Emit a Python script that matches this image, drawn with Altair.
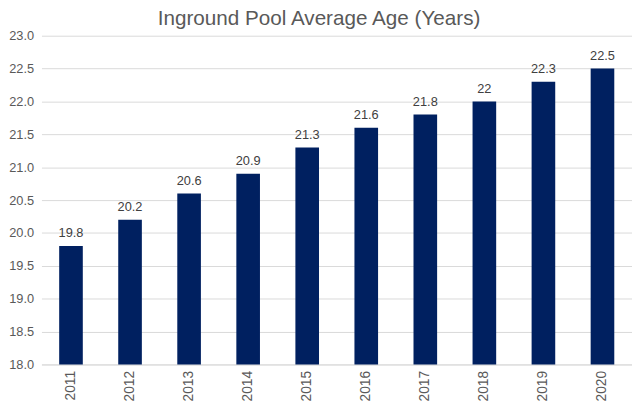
import altair as alt
import pandas as pd

years = ["2011", "2012", "2013", "2014", "2015", "2016", "2017", "2018", "2019", "2020"]
ages = [19.8, 20.2, 20.6, 20.9, 21.3, 21.6, 21.8, 22.0, 22.3, 22.5]
labels = ["19.8", "20.2", "20.6", "20.9", "21.3", "21.6", "21.8", "22", "22.3", "22.5"]
y_ticks = [18.0, 18.5, 19.0, 19.5, 20.0, 20.5, 21.0, 21.5, 22.0, 22.5, 23.0]

df = pd.DataFrame({"year": years, "age": ages, "label": labels})

FONT = "Liberation Sans"
GRAY = "#595959"

x = alt.X("year:N", sort=years, title=None,
          scale=alt.Scale(paddingInner=0.6, paddingOuter=0.3),
          axis=alt.Axis(labelAngle=270, labelFont=FONT, labelFontSize=14, labelColor=GRAY,
                        labelPadding=6, ticks=False, domainColor="#d9d9d9", labelAlign="right",
                        labelBaseline="middle"))
y = alt.Y("age:Q", title=None,
          scale=alt.Scale(domain=[18, 23], zero=False, nice=False),
          axis=alt.Axis(values=y_ticks, format=".1f", labelFont=FONT, labelFontSize=13,
                        labelColor=GRAY, ticks=False, domain=False, gridColor="#d9d9d9",
                        labelPadding=8))

base = alt.Chart(df)
bars = base.mark_bar(color="#002060").encode(x=x, y=y, y2=alt.datum(18))
text = base.mark_text(font=FONT, fontSize=13, color="#404040", baseline="alphabetic", dy=-9).encode(
    x=x, y=y, text="label:N")

chart = (bars + text).properties(
    width=600, height=334,
    padding={"left": 34, "top": 25, "right": 0, "bottom": 36},
    autosize=alt.AutoSizeParams(type="none"),
    title=alt.TitleParams("Inground Pool Average Age (Years)", font=FONT, fontSize=21,
                          fontWeight="normal", color=GRAY, anchor="middle", dx=-18,
                          baseline="alphabetic", offset=-16),
).configure_view(stroke=None)

chart.save("out.html", embed_options={"renderer": "svg", "actions": False})
